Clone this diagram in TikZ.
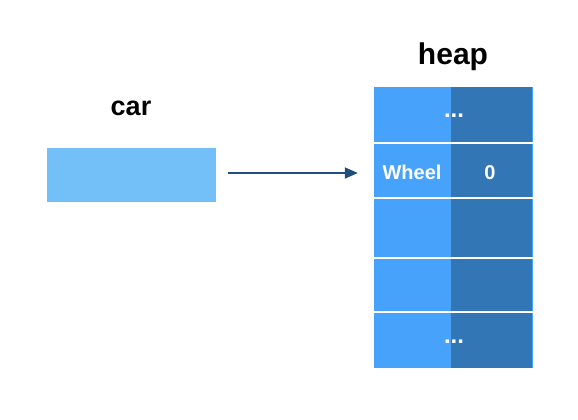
\documentclass[tikz,border=0pt]{standalone}
\usepackage{fontspec}
\setmainfont{Liberation Sans}
\usetikzlibrary{arrows.meta}
\definecolor{lightcell}{HTML}{46A2FA}
\definecolor{darkcell}{HTML}{3276B6}
\definecolor{carblue}{HTML}{73BFF8}
\definecolor{arrowblue}{HTML}{1F4E7F}
\begin{document}
\begin{tikzpicture}[x=1pt,y=-1pt,
  rowbox/.style={fill=lightcell, draw=none, inner sep=0pt, minimum width=159pt, anchor=center},
  darkbox/.style={fill=darkcell, draw=none, inner sep=0pt, minimum width=81pt, anchor=center},
  title/.style={font=\fontsize{28}{30}\selectfont\bfseries, text=black, anchor=base, inner sep=0pt},
  celltext/.style={font=\fontsize{20}{22}\selectfont\bfseries, text=white, anchor=base, inner sep=0pt},
  dotstext/.style={font=\fontsize{24}{26}\selectfont\bfseries, text=white, anchor=base, inner sep=0pt},
  pointer/.style={draw=arrowblue, line width=1.8pt, -{Triangle[length=13pt,width=11pt]}}]
\useasboundingbox (0,0) rectangle (578,420);
% titles
\node[title, font=\fontsize{27}{29}\selectfont\bfseries] (carlabel) at (131,115) {car};
\node[title, font=\fontsize{30}{32}\selectfont\bfseries] (heaplabel) at (453,64) {heap};
% car variable box
\node[fill=carblue, draw=none, inner sep=0pt, minimum width=169pt, minimum height=54pt] (car) at (131.5,175) {};
% heap rows
\node[rowbox, minimum height=55pt] (r1) at (453.5,114.5) {};
\node[rowbox, minimum height=53pt] (r2) at (453.5,170.5) {};
\node[rowbox, minimum height=58pt] (r3) at (453.5,228) {};
\node[rowbox, minimum height=52pt] (r4) at (453.5,285) {};
\node[rowbox, minimum height=55pt] (r5) at (453.5,340.5) {};
\node[darkbox, minimum height=55pt] (d1) at (491.5,114.5) {};
\node[darkbox, minimum height=53pt] (d2) at (491.5,170.5) {};
\node[darkbox, minimum height=58pt] (d3) at (491.5,228) {};
\node[darkbox, minimum height=52pt] (d4) at (491.5,285) {};
\node[darkbox, minimum height=55pt] (d5) at (491.5,340.5) {};
% texts
\node[dotstext] (dots1) at (454,117) {...};
\node[dotstext] (dots5) at (454,343) {...};
\node[celltext] (wheel) at (412,179) {Wheel};
\node[celltext] (zero) at (490,179) {0};
% pointer
\draw[pointer, shorten <=12pt, shorten >=16pt] ([yshift=2pt]car.east) -- ([yshift=-2.5pt]r2.west);
\end{tikzpicture}
\end{document}
